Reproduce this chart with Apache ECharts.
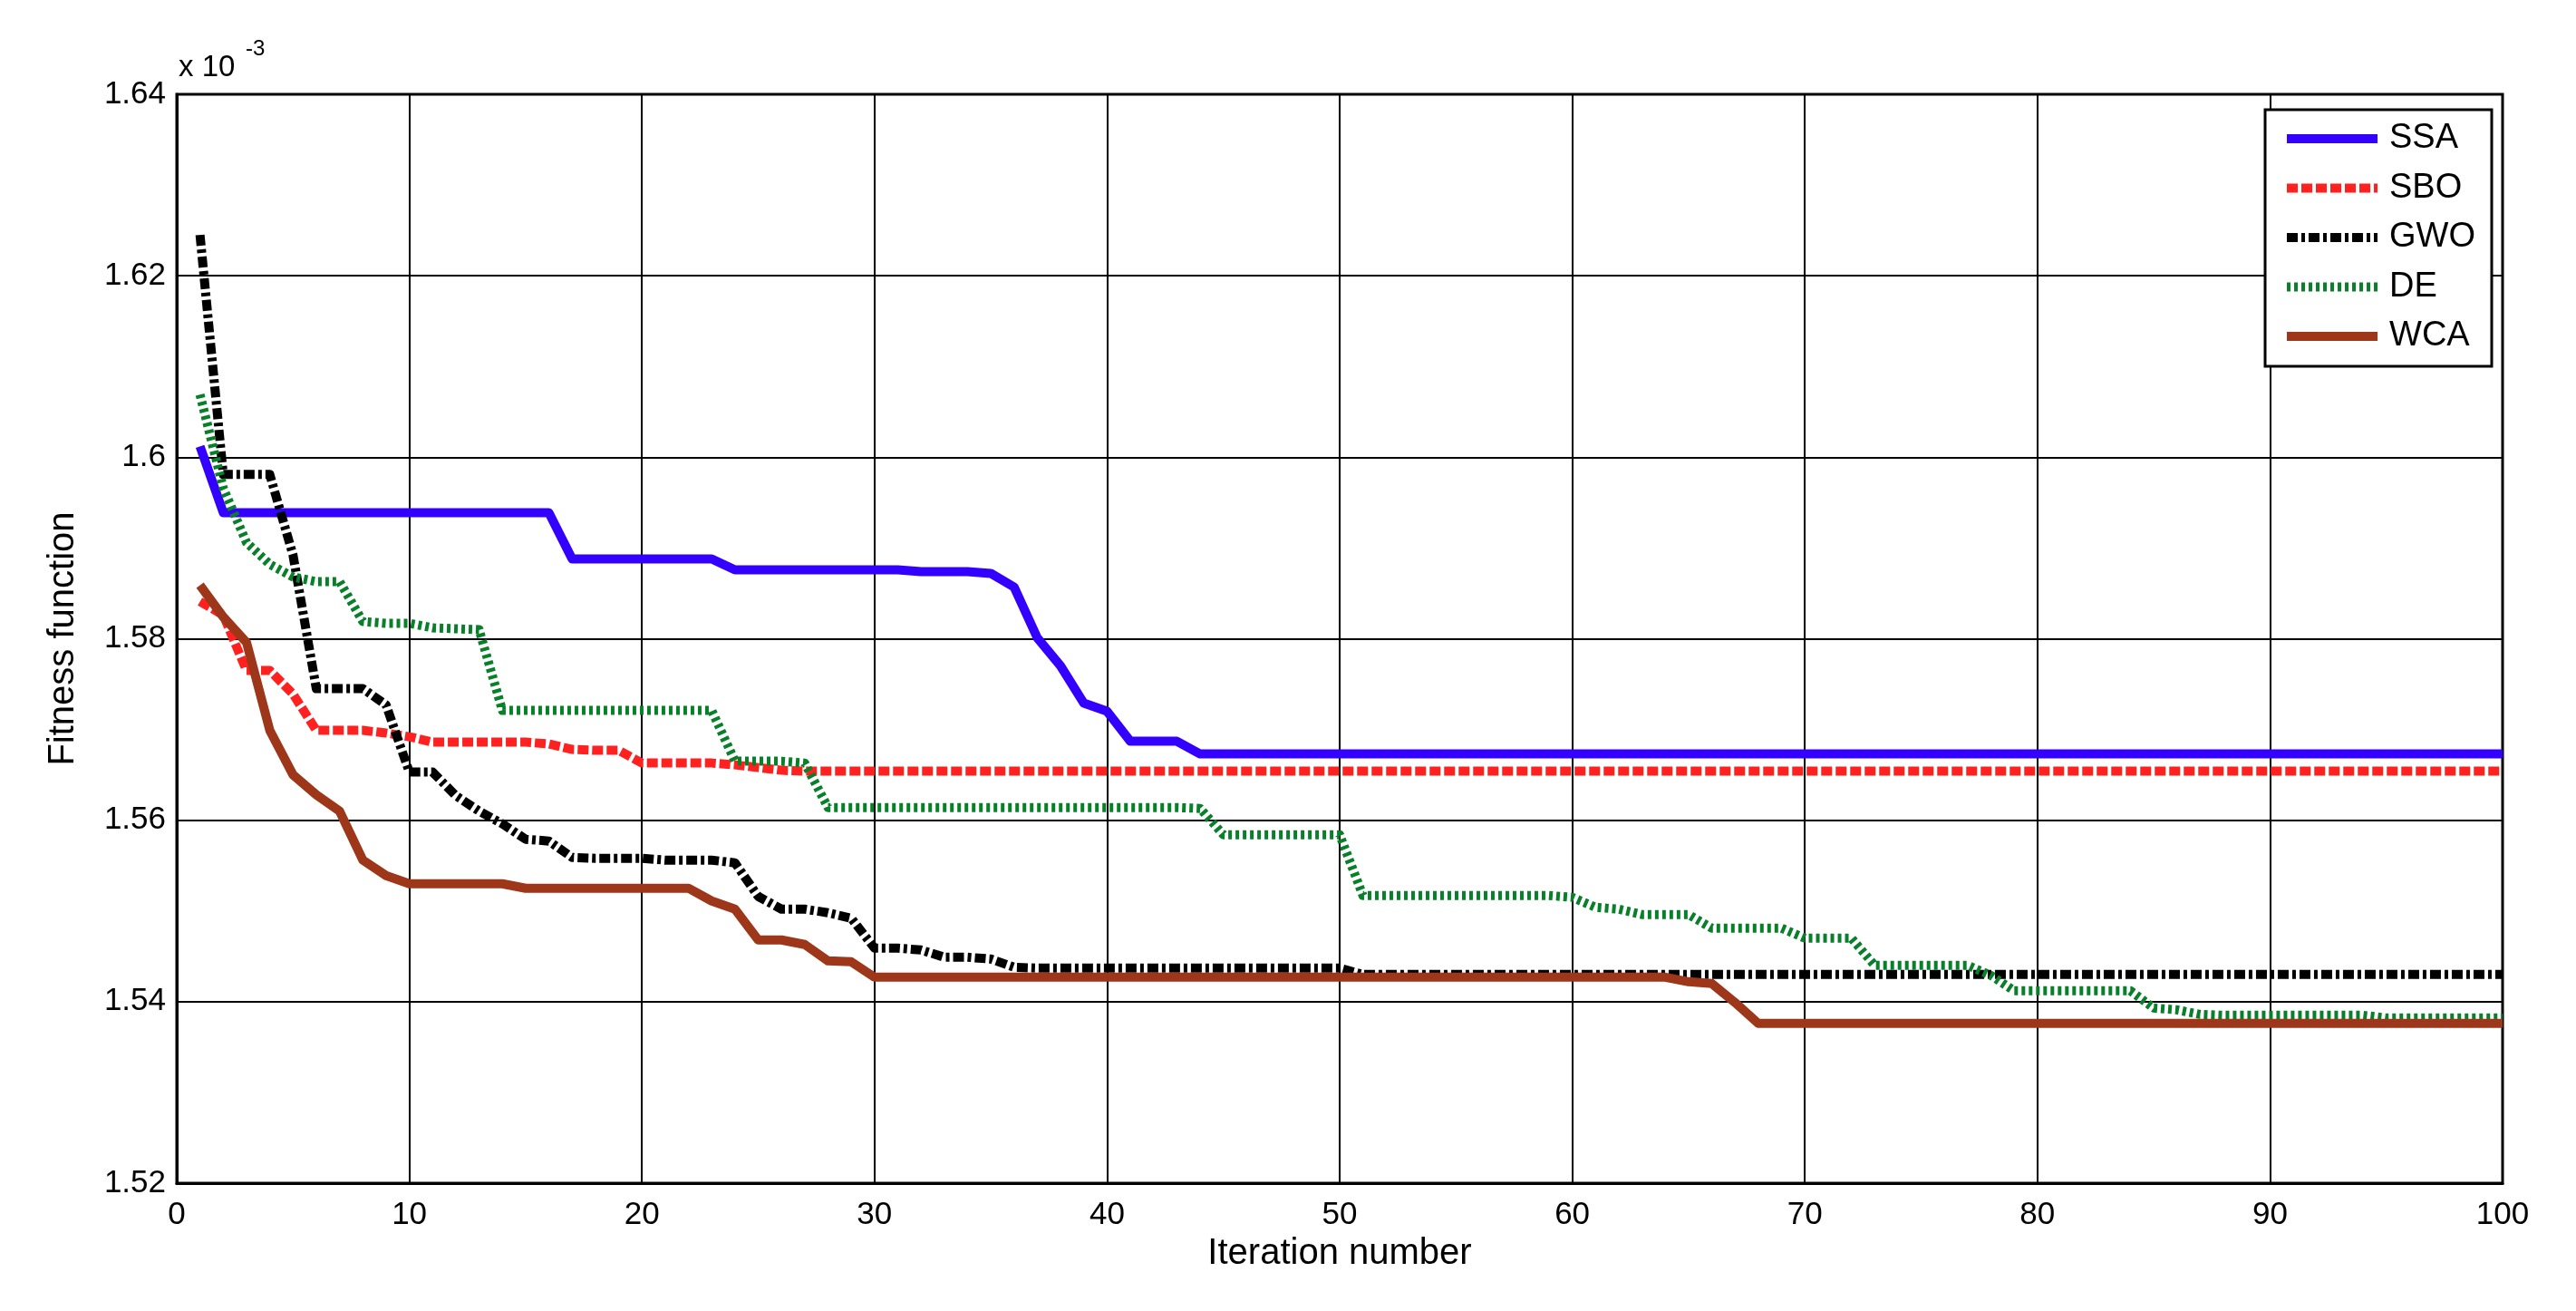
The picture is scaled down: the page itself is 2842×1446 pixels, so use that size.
<!DOCTYPE html>
<html>
<head>
<meta charset="utf-8">
<script src="https://cdn.jsdelivr.net/npm/echarts@6/dist/echarts.min.js"></script>
<style>
html,body{margin:0;padding:0;background:#fff;}
#chart{width:2842px;height:1446px;}
</style>
</head>
<body>
<div id="chart"></div>
<script>
// Iteration numbers (x values)
const iterations = [];
for (let i = 1; i <= 100; i++) iterations.push(i);

const xTicks = [0, 10, 20, 30, 40, 50, 60, 70, 80, 90, 100];
const yTicks = [1.52, 1.54, 1.56, 1.58, 1.6, 1.62, 1.64];
const seriesNames = ['SSA', 'SBO', 'GWO', 'DE', 'WCA'];

// Fitness values (x 10^-3)
const SSA = [
  1.6012, 1.5939, 1.5939, 1.5939, 1.5939, 1.5939, 1.5939, 1.5939, 1.5939, 1.5939,
  1.5939, 1.5939, 1.5939, 1.5939, 1.5939, 1.5939, 1.5888, 1.5888, 1.5888, 1.5888,
  1.5888, 1.5888, 1.5888, 1.5876, 1.5876, 1.5876, 1.5876, 1.5876, 1.5876, 1.5876,
  1.5876, 1.5874, 1.5874, 1.5874, 1.5872, 1.5857, 1.5801, 1.5770, 1.5729, 1.5720,
  1.5687, 1.5687, 1.5687, 1.5673, 1.5673, 1.5673, 1.5673, 1.5673, 1.5673, 1.5673,
  1.5673, 1.5673, 1.5673, 1.5673, 1.5673, 1.5673, 1.5673, 1.5673, 1.5673, 1.5673,
  1.5673, 1.5673, 1.5673, 1.5673, 1.5673, 1.5673, 1.5673, 1.5673, 1.5673, 1.5673,
  1.5673, 1.5673, 1.5673, 1.5673, 1.5673, 1.5673, 1.5673, 1.5673, 1.5673, 1.5673,
  1.5673, 1.5673, 1.5673, 1.5673, 1.5673, 1.5673, 1.5673, 1.5673, 1.5673, 1.5673,
  1.5673, 1.5673, 1.5673, 1.5673, 1.5673, 1.5673, 1.5673, 1.5673, 1.5673, 1.5673
];
const SBO = [
  1.5841, 1.5826, 1.5765, 1.5765, 1.5739, 1.5699, 1.5699, 1.5699, 1.5696, 1.5692,
  1.5686, 1.5686, 1.5686, 1.5686, 1.5686, 1.5684, 1.5678, 1.5677, 1.5677, 1.5663,
  1.5663, 1.5663, 1.5663, 1.5661, 1.5658, 1.5655, 1.5654, 1.5654, 1.5654, 1.5654,
  1.5654, 1.5654, 1.5654, 1.5654, 1.5654, 1.5654, 1.5654, 1.5654, 1.5654, 1.5654,
  1.5654, 1.5654, 1.5654, 1.5654, 1.5654, 1.5654, 1.5654, 1.5654, 1.5654, 1.5654,
  1.5654, 1.5654, 1.5654, 1.5654, 1.5654, 1.5654, 1.5654, 1.5654, 1.5654, 1.5654,
  1.5654, 1.5654, 1.5654, 1.5654, 1.5654, 1.5654, 1.5654, 1.5654, 1.5654, 1.5654,
  1.5654, 1.5654, 1.5654, 1.5654, 1.5654, 1.5654, 1.5654, 1.5654, 1.5654, 1.5654,
  1.5654, 1.5654, 1.5654, 1.5654, 1.5654, 1.5654, 1.5654, 1.5654, 1.5654, 1.5654,
  1.5654, 1.5654, 1.5654, 1.5654, 1.5654, 1.5654, 1.5654, 1.5654, 1.5654, 1.5654
];
const GWO = [
  1.6245, 1.5981, 1.5981, 1.5981, 1.5892, 1.5745, 1.5745, 1.5745, 1.5727, 1.5653,
  1.5653, 1.5627, 1.5610, 1.5596, 1.5579, 1.5577, 1.5559, 1.5558, 1.5558, 1.5558,
  1.5556, 1.5556, 1.5556, 1.5553, 1.5516, 1.5502, 1.5502, 1.5498, 1.5492, 1.5459,
  1.5459, 1.5457, 1.5449, 1.5449, 1.5447, 1.5438, 1.5437, 1.5437, 1.5437, 1.5437,
  1.5437, 1.5437, 1.5437, 1.5437, 1.5437, 1.5437, 1.5437, 1.5437, 1.5437, 1.5437,
  1.5430, 1.5430, 1.5430, 1.5430, 1.5430, 1.5430, 1.5430, 1.5430, 1.5430, 1.5430,
  1.5430, 1.5430, 1.5430, 1.5430, 1.5430, 1.5430, 1.5430, 1.5430, 1.5430, 1.5430,
  1.5430, 1.5430, 1.5430, 1.5430, 1.5430, 1.5430, 1.5430, 1.5430, 1.5430, 1.5430,
  1.5430, 1.5430, 1.5430, 1.5430, 1.5430, 1.5430, 1.5430, 1.5430, 1.5430, 1.5430,
  1.5430, 1.5430, 1.5430, 1.5430, 1.5430, 1.5430, 1.5430, 1.5430, 1.5430, 1.5430
];
const DE = [
  1.6069, 1.5966, 1.5906, 1.5882, 1.5868, 1.5863, 1.5863, 1.5819, 1.5817, 1.5817,
  1.5812, 1.5811, 1.5810, 1.5721, 1.5721, 1.5721, 1.5721, 1.5721, 1.5721, 1.5721,
  1.5721, 1.5721, 1.5721, 1.5665, 1.5665, 1.5665, 1.5663, 1.5614, 1.5614, 1.5614,
  1.5614, 1.5614, 1.5614, 1.5614, 1.5614, 1.5614, 1.5614, 1.5614, 1.5614, 1.5614,
  1.5614, 1.5614, 1.5614, 1.5613, 1.5584, 1.5584, 1.5584, 1.5584, 1.5584, 1.5584,
  1.5517, 1.5517, 1.5517, 1.5517, 1.5517, 1.5517, 1.5517, 1.5517, 1.5517, 1.5515,
  1.5504, 1.5502, 1.5496, 1.5496, 1.5496, 1.5481, 1.5481, 1.5481, 1.5481, 1.5470,
  1.5470, 1.5470, 1.5440, 1.5440, 1.5440, 1.5440, 1.5440, 1.5429, 1.5412, 1.5412,
  1.5412, 1.5412, 1.5412, 1.5412, 1.5393, 1.5391, 1.5386, 1.5385, 1.5385, 1.5385,
  1.5385, 1.5385, 1.5385, 1.5385, 1.5382, 1.5382, 1.5382, 1.5382, 1.5382, 1.5382
];
const WCA = [
  1.5859, 1.5824, 1.5796, 1.5699, 1.5650, 1.5628, 1.5610, 1.5556, 1.5539, 1.5530,
  1.5530, 1.5530, 1.5530, 1.5530, 1.5525, 1.5525, 1.5525, 1.5525, 1.5525, 1.5525,
  1.5525, 1.5525, 1.5511, 1.5502, 1.5468, 1.5468, 1.5463, 1.5445, 1.5444, 1.5427,
  1.5427, 1.5427, 1.5427, 1.5427, 1.5427, 1.5427, 1.5427, 1.5427, 1.5427, 1.5427,
  1.5427, 1.5427, 1.5427, 1.5427, 1.5427, 1.5427, 1.5427, 1.5427, 1.5427, 1.5427,
  1.5427, 1.5427, 1.5427, 1.5427, 1.5427, 1.5427, 1.5427, 1.5427, 1.5427, 1.5427,
  1.5427, 1.5427, 1.5427, 1.5427, 1.5422, 1.5420, 1.5399, 1.5376, 1.5376, 1.5376,
  1.5376, 1.5376, 1.5376, 1.5376, 1.5376, 1.5376, 1.5376, 1.5376, 1.5376, 1.5376,
  1.5376, 1.5376, 1.5376, 1.5376, 1.5376, 1.5376, 1.5376, 1.5376, 1.5376, 1.5376,
  1.5376, 1.5376, 1.5376, 1.5376, 1.5376, 1.5376, 1.5376, 1.5376, 1.5376, 1.5376
];

const FONT = 'Liberation Sans, Arial, Helvetica, sans-serif';
const seriesValues = [SSA, SBO, GWO, DE, WCA];
const seriesColors = ['#3300ff', '#ff2020', '#000000', '#08802a', '#9e3619'];
const seriesDash = ['solid', [12, 4], [12, 4, 4, 4], [4, 4], 'solid'];

const chart = echarts.init(document.getElementById('chart'), null, {renderer: 'canvas'});

const series = seriesNames.map((name, k) => ({
  name: name,
  type: 'line',
  data: iterations.map((it, i) => [it, seriesValues[k][i]]),
  symbol: 'none',
  showSymbol: false,
  smooth: false,
  lineStyle: { color: seriesColors[k], width: 10, type: seriesDash[k], cap: 'butt', join: 'round' },
  itemStyle: { color: seriesColors[k] },
  emphasis: { disabled: true },
  animation: false
}));

chart.setOption({
  animation: false,
  backgroundColor: '#ffffff',
  grid: {
    left: 195, right: 81, top: 104, bottom: 141,
    show: true, borderColor: '#000', borderWidth: 3, backgroundColor: 'transparent'
  },
  xAxis: {
    type: 'value',
    min: xTicks[0], max: xTicks[xTicks.length - 1], interval: 10,
    name: 'Iteration number',
    nameLocation: 'middle',
    nameGap: 54,
    nameTextStyle: { fontFamily: FONT, fontSize: 40, color: '#000' },
    axisLine: { show: true, lineStyle: { color: '#000', width: 3 } },
    axisTick: { show: false },
    axisLabel: { fontFamily: FONT, fontSize: 35, color: '#000', margin: 18 },
    splitLine: { show: true, lineStyle: { color: '#000', width: 2 } }
  },
  yAxis: {
    type: 'value',
    min: yTicks[0], max: yTicks[yTicks.length - 1], interval: 0.02,
    name: 'Fitness function',
    nameLocation: 'middle',
    nameGap: 105,
    nameTextStyle: { fontFamily: FONT, fontSize: 40, color: '#000' },
    axisLine: { show: true, lineStyle: { color: '#000', width: 3 } },
    axisTick: { show: false },
    axisLabel: {
      fontFamily: FONT, fontSize: 35, color: '#000', margin: 12,
      formatter: v => String(Math.round(v * 100) / 100)
    },
    splitLine: { show: true, lineStyle: { color: '#000', width: 2 } }
  },
  legend: {
    data: seriesNames,
    orient: 'vertical',
    right: 93,
    top: 121,
    itemWidth: 100,
    itemHeight: 36,
    itemGap: 16.5,
    padding: [13, 18, 14, 19],
    backgroundColor: '#fff',
    borderColor: '#000',
    borderWidth: 3,
    borderRadius: 0,
    selectedMode: false,
    itemStyle: { opacity: 0 },
    lineStyle: { width: 10, type: 'inherit', cap: 'butt' },
    textStyle: { fontFamily: FONT, fontSize: 38, color: '#000', padding: [0, 0, 0, 8] }
  },
  graphic: [
    {
      type: 'text', left: 197, top: 58, silent: true,
      style: { text: 'x 10', font: '33px ' + FONT, fill: '#000' }
    },
    {
      type: 'text', left: 271, top: 42, silent: true,
      style: { text: '-3', font: '24px ' + FONT, fill: '#000' }
    }
  ],
  series: series
});
</script>
</body>
</html>
